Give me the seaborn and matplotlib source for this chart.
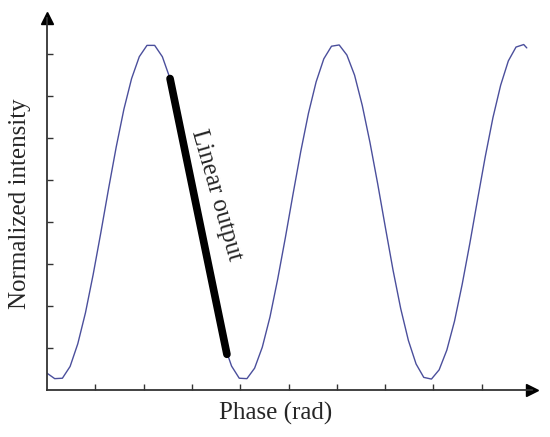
import numpy as np
import pandas as pd
import seaborn as sns
import matplotlib.pyplot as plt

# -----------------------------
# Data
# -----------------------------
phase = [0.00, 0.25, 0.50, 0.75, 1.00, 1.25, 1.50, 1.75, 2.00, 2.25, 2.50, 2.75,
         3.00, 3.25, 3.50, 3.75, 4.00, 4.25, 4.50, 4.75, 5.00, 5.25, 5.50, 5.75,
         6.00, 6.25, 6.50, 6.75, 7.00, 7.25, 7.50, 7.75, 8.00, 8.25, 8.50, 8.75,
         9.00, 9.25, 9.50, 9.75, 10.00, 10.25, 10.50, 10.75, 11.00, 11.25, 11.50,
         11.75, 12.00, 12.25, 12.50, 12.75, 13.00, 13.25, 13.50, 13.75, 14.00,
         14.25, 14.50, 14.75, 15.00, 15.25, 15.50, 15.60]
intensity = [0.040, 0.027, 0.028, 0.056, 0.110, 0.184, 0.275, 0.375, 0.479, 0.579,
             0.669, 0.742, 0.794, 0.821, 0.821, 0.794, 0.742, 0.669, 0.578, 0.479,
             0.375, 0.274, 0.185, 0.110, 0.057, 0.028, 0.027, 0.052, 0.102, 0.174,
             0.264, 0.363, 0.467, 0.568, 0.659, 0.734, 0.789, 0.819, 0.822, 0.798,
             0.750, 0.678, 0.590, 0.492, 0.388, 0.286, 0.194, 0.118, 0.062, 0.030,
             0.026, 0.048, 0.095, 0.164, 0.252, 0.350, 0.454, 0.556, 0.649, 0.726,
             0.784, 0.817, 0.823, 0.815]

# linear region on the falling slope
linear_phase = [4.00, 5.85]
linear_intensity = [0.742, 0.085]

x_ticks = [i * np.pi / 2 for i in range(1, 10)]
y_ticks = [0.1, 0.2, 0.3, 0.4, 0.5, 0.6, 0.7, 0.8]

df = pd.DataFrame({"phase": phase, "intensity": intensity})
lin = pd.DataFrame({"phase": linear_phase, "intensity": linear_intensity})

# -----------------------------
# Style
# -----------------------------
sns.set_style("white")
plt.rcParams["font.family"] = ["Liberation Serif", "DejaVu Serif"]

fig = plt.figure(figsize=(5.5, 4.37), dpi=100)
ax = fig.add_axes([0.0855, 0.1076, 0.8818, 0.851])

sns.lineplot(data=df, x="phase", y="intensity", color="#4b4f9c", linewidth=1.0, ax=ax)
sns.lineplot(data=lin, x="phase", y="intensity", color="black", linewidth=5.5,
             solid_capstyle="round", ax=ax)

ax.text(5.5, 0.464, "Linear output", rotation=-74, fontsize=18,
        ha="center", va="center")

ax.set_xlim(0, 15.77)
ax.set_ylim(0, 0.886)
ax.set_xticks(x_ticks)
ax.set_yticks(y_ticks)
ax.set_xticklabels([])
ax.set_yticklabels([])
ax.tick_params(bottom=True, left=True, direction="in", length=4, width=1.0,
               color="#333333")
ax.set_xlabel("")
ax.set_ylabel("")

for side in ["top", "right"]:
    ax.spines[side].set_visible(False)
for side in ["left", "bottom"]:
    ax.spines[side].set_color("#333333")
    ax.spines[side].set_linewidth(1.3)

# arrow heads on axes
ax.plot(1, 0, ">", color="black", markersize=8, transform=ax.transAxes, clip_on=False)
ax.plot(0, 1, "^", color="black", markersize=8, transform=ax.transAxes, clip_on=False)

fig.text(276 / 550, 1 - 413 / 437, "Phase (rad)", fontsize=18, ha="center", va="center")
fig.text(20 / 550, 1 - 204 / 437, "Normalized intensity", fontsize=18,
         rotation=90, ha="center", va="center")

fig.savefig("out.png", dpi=100)
